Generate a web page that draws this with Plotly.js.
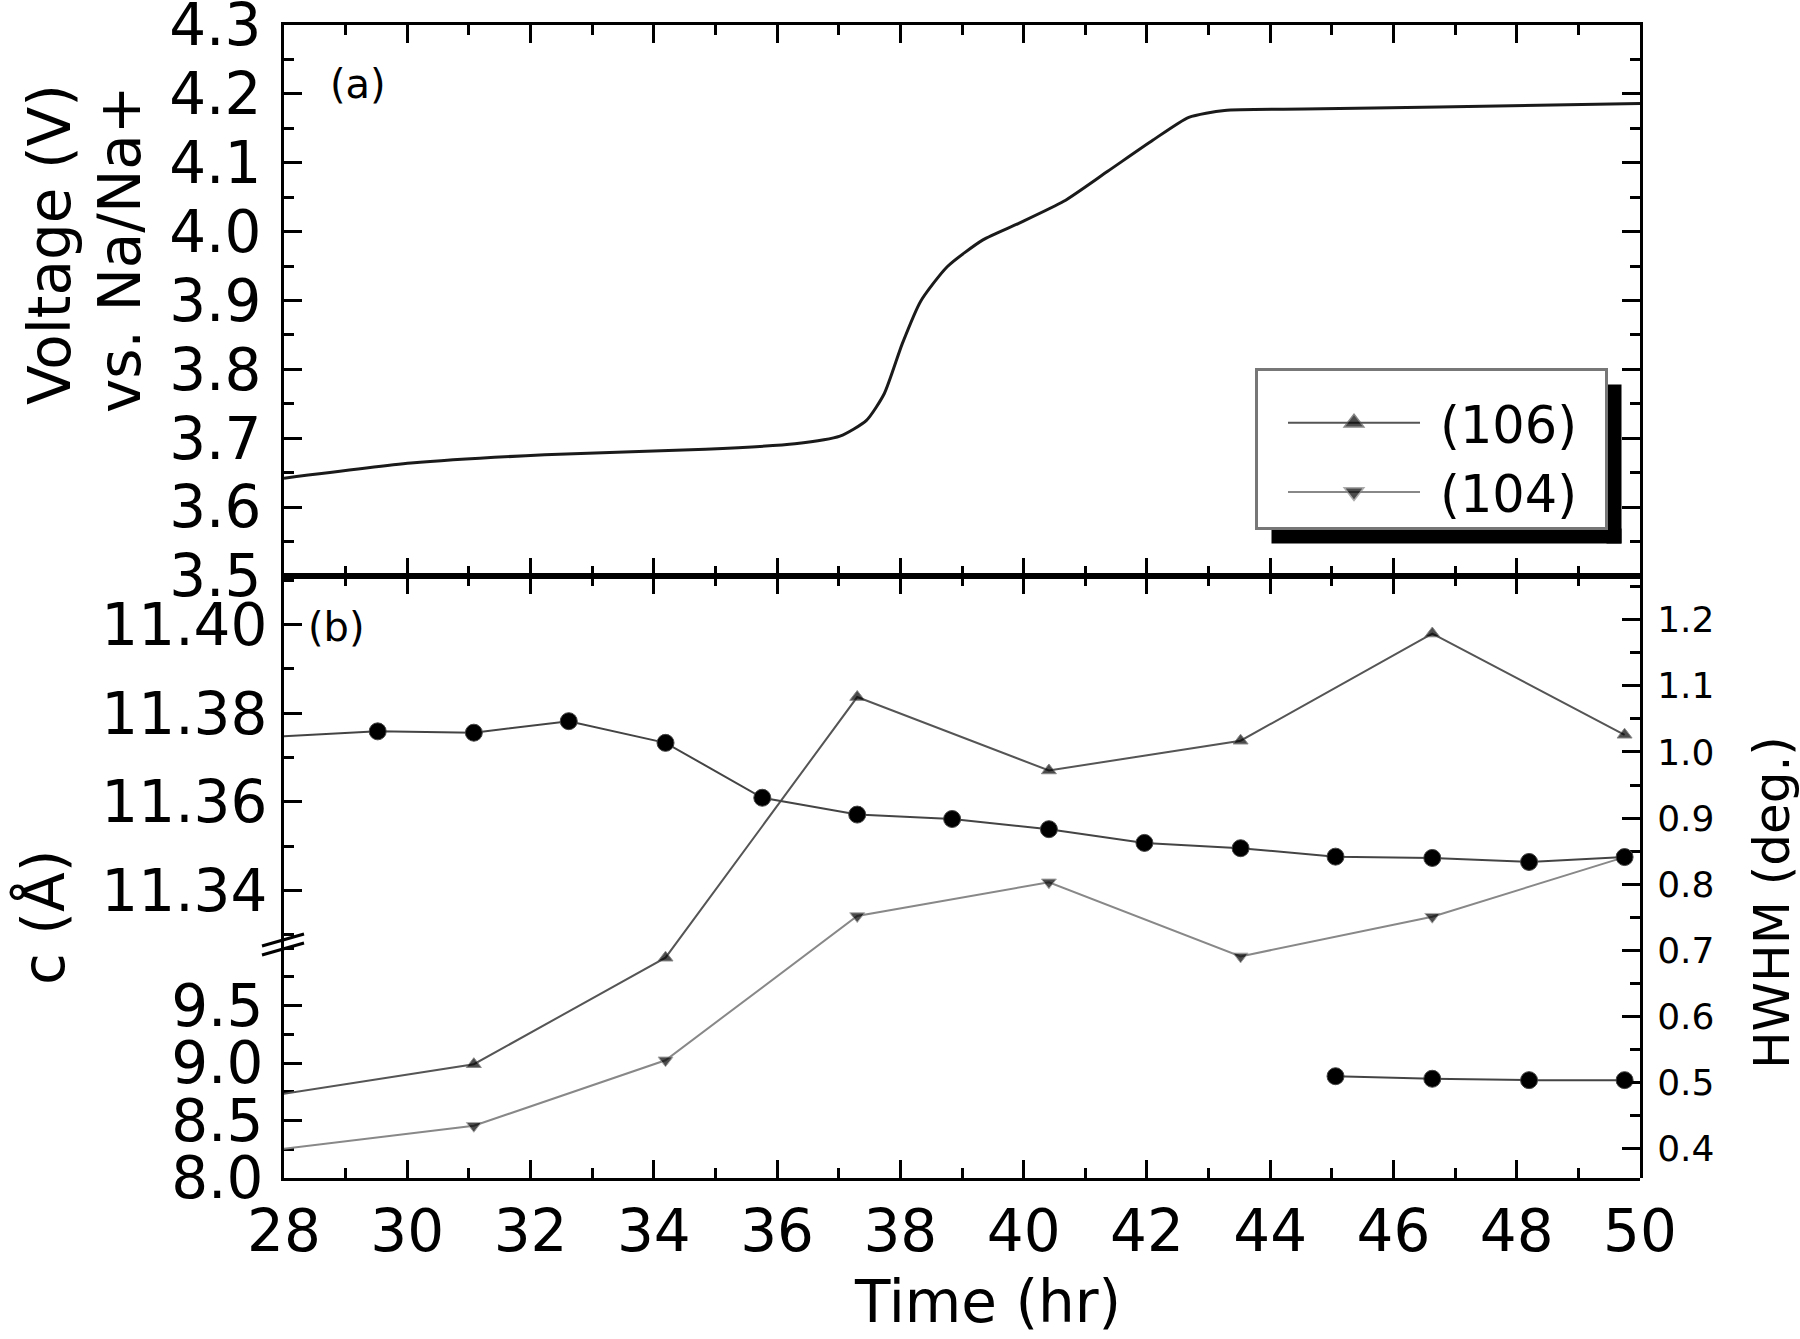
<!DOCTYPE html>
<html>
<head>
<meta charset="utf-8">
<script src="https://cdn.plot.ly/plotly-3.0.1.min.js"></script>
<style>
html,body{margin:0;padding:0;background:#ffffff;}
#chart{width:1800px;height:1339px;}
</style>
</head>
<body>
<div id="chart"></div>
<script>
// ---------------- data ----------------
const voltageTime   = [28.0, 30.06, 32.23, 34.84, 36.29, 37.02, 37.45, 37.74, 38.03, 38.33, 38.76, 39.34, 39.92, 40.65, 41.37, 42.10, 42.68, 43.26, 44.56, 46.74, 50.0];
const voltageValues = [3.642, 3.664, 3.676, 3.684, 3.692, 3.703, 3.726, 3.765, 3.837, 3.899, 3.949, 3.988, 4.012, 4.044, 4.088, 4.133, 4.166, 4.176, 4.178, 4.181, 4.186];

const cTime   = [27.98, 29.52, 31.08, 32.62, 34.19, 35.76, 37.30, 38.84, 40.41, 41.96, 43.52, 45.06, 46.63, 48.20, 49.75];
const cValues = [11.3748, 11.3759, 11.3756, 11.3782, 11.3733, 11.3609, 11.3571, 11.3561, 11.3538, 11.3507, 11.3495, 11.3476, 11.3473, 11.3464, 11.3475];

const c2Time   = [45.06, 46.63, 48.20, 49.75];
const c2Values = [8.885, 8.863, 8.851, 8.851];

const hwhmTime = [27.98, 31.08, 34.19, 37.30, 40.41, 43.52, 46.63, 49.75];
const hwhm106  = [0.483, 0.528, 0.689, 1.083, 0.972, 1.017, 1.179, 1.026];
const hwhm104  = [0.400, 0.435, 0.534, 0.752, 0.803, 0.691, 0.751, 0.841];

const seriesNames  = ['(106)', '(104)'];
const timeTicks    = [28, 30, 32, 34, 36, 38, 40, 42, 44, 46, 48, 50];
const voltageTicks = [3.5, 3.6, 3.7, 3.8, 3.9, 4.0, 4.1, 4.2, 4.3];
const cHighTicks   = [11.34, 11.36, 11.38, 11.40];
const cLowTicks    = [8.0, 8.5, 9.0, 9.5];
const hwhmTicks    = [0.4, 0.5, 0.6, 0.7, 0.8, 0.9, 1.0, 1.1, 1.2];

// ---------------- geometry helpers ----------------
const FONT = 'DejaVu Sans, Arial, sans-serif';
const L = 284, R = 1640, T = 25, B = 1178, MID = 576, BRK = 942.5;
const px2x = p => (p - L) / (R - L);
const px2y = p => (B - p) / (B - T);
const XMIN = 28, XMAX = 50;
const sizesFor = (xs, s) => xs.map(x => (x < XMIN ? 0 : s));

const minorTicks = (dtick, tick0) => ({tickmode: 'linear', dtick: dtick, tick0: tick0, ticks: 'inside', ticklen: 10, tickwidth: 3, tickcolor: '#000'});

const axisCommon = {
  showline: true, linecolor: '#000', linewidth: 3,
  ticks: 'inside', ticklen: 18, tickwidth: 3, tickcolor: '#000',
  showgrid: false, zeroline: false, ticklabeloverflow: 'allow',
  tickfont: {family: FONT, size: 58, color: '#000'}
};

const traces = [
  {
    x: voltageTime, y: voltageValues, xaxis: 'x', yaxis: 'y',
    type: 'scatter', mode: 'lines', showlegend: false,
    line: {color: '#1a1a1a', width: 3, shape: 'spline', smoothing: 0.6}
  },
  {
    x: cTime, y: cValues, xaxis: 'x3', yaxis: 'y2',
    type: 'scatter', mode: 'lines+markers', showlegend: false,
    line: {color: '#444', width: 2},
    marker: {symbol: 'circle', color: '#000', opacity: 1, size: sizesFor(cTime, 17)}
  },
  {
    x: c2Time, y: c2Values, xaxis: 'x2', yaxis: 'y3',
    type: 'scatter', mode: 'lines+markers', showlegend: false,
    line: {color: '#444', width: 2},
    marker: {symbol: 'circle', color: '#000', opacity: 1, size: sizesFor(c2Time, 17)}
  },
  {
    x: hwhmTime, y: hwhm106, xaxis: 'x2', yaxis: 'y4',
    type: 'scatter', mode: 'lines+markers', name: seriesNames[0],
    line: {color: '#555', width: 2},
    marker: {symbol: 'triangle-up', color: '#000', size: sizesFor(hwhmTime, 13)}
  },
  {
    x: hwhmTime, y: hwhm104, xaxis: 'x2', yaxis: 'y4',
    type: 'scatter', mode: 'lines+markers', name: seriesNames[1],
    line: {color: '#888', width: 2},
    marker: {symbol: 'triangle-down', color: '#000', size: sizesFor(hwhmTime, 13)}
  }
];

const ann = (text, xpx, ypx, size, angle) => ({
  text: text, xref: 'paper', yref: 'paper', x: px2x(xpx), y: px2y(ypx),
  xanchor: 'center', yanchor: 'middle', showarrow: false, textangle: angle || 0,
  font: {family: FONT, size: size, color: '#000'}
});

const layout = {
  width: 1800, height: 1339,
  margin: {l: L, r: 1800 - R, t: T, b: 1339 - B},
  paper_bgcolor: '#ffffff', plot_bgcolor: 'rgba(0,0,0,0)',
  font: {family: FONT, color: '#000'},
  showlegend: true,
  legend: {
    x: px2x(1255), y: px2y(368), xanchor: 'left', yanchor: 'top',
    bgcolor: '#ffffff', bordercolor: '#777', borderwidth: 3,
    font: {family: FONT, size: 51, color: '#000'},
    itemwidth: 172, tracegroupgap: 0
  },
  xaxis: Object.assign({}, axisCommon, {
    domain: [0, 1], anchor: 'y', range: [XMIN, XMAX],
    tickmode: 'array', tickvals: timeTicks, showticklabels: false, mirror: 'ticks',
    minor: minorTicks(1, 28)
  }),
  yaxis: Object.assign({}, axisCommon, {
    domain: [px2y(MID), 1], anchor: 'x', range: [3.5, 4.3],
    tickmode: 'array', tickvals: voltageTicks, tickformat: '.1f', mirror: 'ticks', ticklabelstandoff: 8,
    minor: minorTicks(0.05, 3.5)
  }),
  xaxis2: Object.assign({}, axisCommon, {
    domain: [0, 1], anchor: 'y3', range: [XMIN, XMAX],
    tickmode: 'array', tickvals: timeTicks, ticklabelstandoff: 0,
    minor: minorTicks(1, 28)
  }),
  xaxis3: Object.assign({}, axisCommon, {
    domain: [0, 1], anchor: 'y2', side: 'top', range: [XMIN, XMAX],
    tickmode: 'array', tickvals: timeTicks, showticklabels: false,
    minor: minorTicks(1, 28)
  }),
  yaxis2: Object.assign({}, axisCommon, {
    domain: [px2y(BRK), px2y(MID)], anchor: 'x3', range: [11.3282, 11.4110],
    tickmode: 'array', tickvals: cHighTicks, tickformat: '.2f', ticklabelstandoff: 2,
    minor: minorTicks(0.01, 11.34)
  }),
  yaxis3: Object.assign({}, axisCommon, {
    domain: [0, px2y(BRK)], anchor: 'x2', range: [8.0, 10.048],
    tickmode: 'array', tickvals: cLowTicks, tickformat: '.1f', ticklabelstandoff: 6,
    minor: minorTicks(0.25, 8.0)
  }),
  yaxis4: Object.assign({}, axisCommon, {
    domain: [0, px2y(MID)], anchor: 'x2', side: 'right', range: [0.356, 1.266],
    tickmode: 'array', tickvals: hwhmTicks, tickformat: '.1f', ticklabelstandoff: 7,
    tickfont: {family: FONT, size: 36, color: '#000'},
    minor: minorTicks(0.05, 0.4)
  }),
  annotations: [
    ann('Voltage (V)', 50, 245, 58, -90),
    ann('vs. Na/Na+', 120, 250, 58, -90),
    ann('c (Å)', 43, 918, 58, -90),
    ann('HWHM (deg.)', 1772, 903, 50, -90),
    ann('Time (hr)', 987, 1302, 58, 0),
    ann('(a)', 358, 84, 40, 0),
    ann('(b)', 336, 627, 40, 0)
  ],
  shapes: [
    {type: 'line', xref: 'paper', yref: 'paper', x0: px2x(262), y0: px2y(946), x1: px2x(304), y1: px2y(934), line: {color: '#000', width: 3}},
    {type: 'line', xref: 'paper', yref: 'paper', x0: px2x(262), y0: px2y(955), x1: px2x(304), y1: px2y(943), line: {color: '#000', width: 3}}
  ]
};

// legend box target size (reference look) and shadow thickness
const LEG_W = 350, LEG_H = 159, LEG_SHIFT = 12, SHADOW = 15;

const gd = document.getElementById('chart');
Plotly.newPlot(gd, traces, layout, {displayModeBar: false, staticPlot: true}).then(() => {
  const bg = gd.querySelector('.legend rect.bg');
  if (!bg) return;
  const gbox = gd.getBoundingClientRect();
  const bb = bg.getBoundingClientRect();
  const lft = bb.left - gbox.left, top = bb.top - gbox.top;
  const rgt = lft + LEG_W, bot = top + LEG_H;
  const shadow = [
    {type: 'rect', xref: 'paper', yref: 'paper', layer: 'above',
     x0: px2x(rgt), x1: px2x(rgt + SHADOW), y0: px2y(top + SHADOW), y1: px2y(bot + SHADOW),
     line: {width: 0}, fillcolor: '#000'},
    {type: 'rect', xref: 'paper', yref: 'paper', layer: 'above',
     x0: px2x(lft + SHADOW), x1: px2x(rgt + SHADOW), y0: px2y(bot), y1: px2y(bot + SHADOW),
     line: {width: 0}, fillcolor: '#000'}
  ];
  return Plotly.relayout(gd, {shapes: layout.shapes.concat(shadow)});
}).then(() => {
  const leg = gd.querySelector('.legend');
  if (!leg) return;
  const bg = leg.querySelector('rect.bg');
  if (bg) { bg.setAttribute('width', LEG_W); bg.setAttribute('height', LEG_H); }
  const sb = leg.querySelector('.scrollbox');
  if (sb) sb.removeAttribute('clip-path');
  leg.querySelectorAll('.traces').forEach(tr => {
    const m = /translate\(\s*([-\d.e]+)[ ,]+([-\d.e]+)\s*\)/.exec(tr.getAttribute('transform') || '');
    if (m) tr.setAttribute('transform', 'translate(' + m[1] + ',' + (parseFloat(m[2]) + LEG_SHIFT) + ')');
    const line = tr.querySelector('.legendlines path');
    if (line) line.setAttribute('d', 'M30,0h132');
    tr.querySelectorAll('.legendsymbols path').forEach(p => p.setAttribute('transform', 'translate(96,0) scale(1.5)'));
  });
});
</script>
</body>
</html>
